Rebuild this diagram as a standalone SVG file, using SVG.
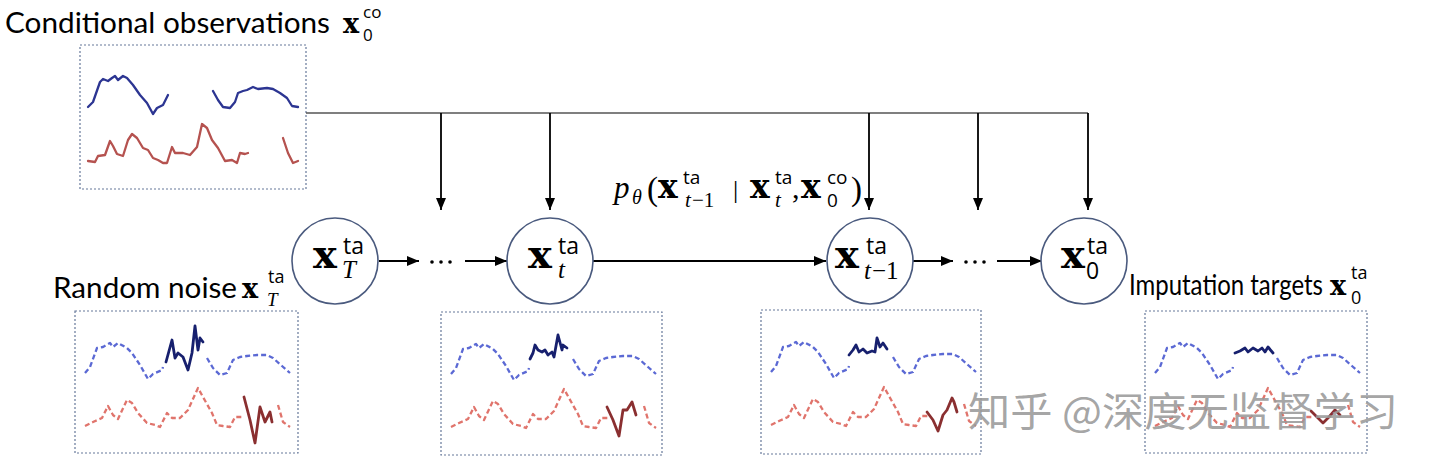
<svg xmlns="http://www.w3.org/2000/svg" width="1440" height="468" viewBox="0 0 1440 468">
<style>
.lbl{font-family:Lato,"Open Sans","Liberation Sans",sans-serif;font-size:28px;fill:#000}
.bx{font-family:"DejaVu Serif","Liberation Serif",serif;font-weight:bold;fill:#000}
.up{font-family:"Open Sans","Liberation Sans",sans-serif;fill:#000}
.it{font-family:"Liberation Serif","DejaVu Serif",serif;font-style:italic;fill:#000}
.rm{font-family:"Liberation Serif","DejaVu Serif",serif;fill:#000}
.box{fill:#fff;stroke:#66789a;stroke-width:1.2;stroke-dasharray:2 2}
.node{fill:#fff;stroke:#4a5a7e;stroke-width:1.6}
.cv{fill:none;stroke-width:2.3;stroke-linejoin:round;stroke-linecap:round}
.bS{stroke:#2c3592}.rS{stroke:#b5524f}
.bD{stroke:#5b69d4;stroke-dasharray:5 3;stroke-linecap:butt}
.rD{stroke:#e0746c;stroke-dasharray:5 3;stroke-linecap:butt}
.bK{stroke:#17206e;stroke-width:2.8}
.rK{stroke:#8a2f30;stroke-width:2.8}
.hl{stroke:#555;stroke-width:1.6;fill:none}
.ar{stroke:#000;stroke-width:1.8;fill:none}
.wm{font-family:"Noto Sans CJK SC","Noto Sans",sans-serif;font-size:40px;fill:#9a9a9a;fill-opacity:0.9}
</style>
<defs>
<marker id="ah" viewBox="0 0 12 10" refX="12" refY="5" markerWidth="12" markerHeight="10" orient="auto" markerUnits="userSpaceOnUse"><path d="M0,0 L12,5 L0,10 z" fill="#000"/></marker>
<g id="dash">
<path class="cv bD" d="M10,62 L15,56 L22,37 L28,36 L35,32 L38,36 L43,32 L52,37 L57,42 L65,54 L73,68 L78,63 L87,59 L88,56"/>
<path class="cv bD" d="M132,47 L138,57 L145,64 L152,62 L158,49 L165,46 L172,45 L182,44 L192,44 L198,47 L207,55 L215,62"/>
<path class="cv rD" d="M10,115 L18,111 L27,107 L33,95 L38,104 L43,108 L52,89 L57,92 L63,102 L72,112 L80,114 L85,116 L92,102 L97,107 L105,107 L113,99 L123,77 L128,86 L137,102 L142,114 L148,115 L155,116 L160,106 L167,106"/>
<path class="cv rD" d="M203,94 L208,111 L215,116"/>
</g>
</defs>

<g id="top-observations">
<rect class="box" x="80" y="45" width="226" height="144"/>
<path class="cv bS" d="M88,107 L93,102 L100,82 L103,79 L108,81 L112,78 L115,76 L118,80 L123,76 L127,78 L133,85 L140,95 L147,103 L153,114 L157,108 L163,105 L168,95"/>
<path class="cv bS" d="M213,91 L218,100 L223,107 L230,108 L235,102 L238,93 L243,91 L247,90 L253,87 L258,89 L267,88 L273,89 L280,93 L287,98 L292,106 L298,107"/>
<path class="cv rS" d="M88,161 L95,162 L98,156 L105,155 L110,141 L113,146 L117,154 L123,156 L128,140 L132,134 L137,138 L143,148 L148,150 L153,158 L158,160 L163,163 L167,163 L172,147 L175,153 L183,153 L190,155 L197,147 L202,124 L207,128 L212,140 L218,148 L225,161 L232,160 L237,163 L240,153 L245,154 L248,153"/>
<path class="cv rS" d="M283,138 L288,153 L293,163 L298,161"/>
<text class="lbl" x="5" y="33" textLength="325" lengthAdjust="spacingAndGlyphs">Conditional observations</text>
<text><tspan class="bx" x="343" y="33" font-size="27">x</tspan><tspan class="up" x="363" y="18" font-size="17">co</tspan><tspan class="up" x="363" y="41" font-size="17">0</tspan></text>
</g>

<g id="connectors">
<path class="hl" d="M306,113 H1088"/>
<path class="ar" d="M441,113 V210" marker-end="url(#ah)"/>
<path class="ar" d="M550,113 V210" marker-end="url(#ah)"/>
<path class="ar" d="M869,113 V210" marker-end="url(#ah)"/>
<path class="ar" d="M978,113 V210" marker-end="url(#ah)"/>
<path class="ar" d="M1088,113 V210" marker-end="url(#ah)"/>
<path class="ar" d="M379,261 H419" marker-end="url(#ah)"/>
<path class="ar" d="M465,261 H507" marker-end="url(#ah)"/>
<path class="ar" d="M593,261 H826" marker-end="url(#ah)"/>
<path class="ar" d="M913,261 H953" marker-end="url(#ah)"/>
<path class="ar" d="M997,261 H1042" marker-end="url(#ah)"/>
<g fill="#000"><circle cx="432" cy="262" r="1.8"/><circle cx="441" cy="262" r="1.8"/><circle cx="450" cy="262" r="1.8"/>
<circle cx="966" cy="262" r="1.8"/><circle cx="975" cy="262" r="1.8"/><circle cx="984" cy="262" r="1.8"/></g>
<text><tspan class="it" x="614" y="198" font-size="31">p</tspan><tspan class="it" x="632" y="204" font-size="20">θ</tspan><tspan class="rm" x="647" y="200" font-size="33">(</tspan><tspan class="bx" x="658" y="198" font-size="33">x</tspan><tspan class="up" x="683" y="184" font-size="19">ta</tspan><tspan class="it" x="685" y="207" font-size="21">t</tspan><tspan class="rm" x="692" y="207" font-size="21">−1</tspan><tspan class="rm" x="733" y="198" font-size="26">|</tspan><tspan class="bx" x="750" y="198" font-size="33">x</tspan><tspan class="up" x="775" y="184" font-size="19">ta</tspan><tspan class="it" x="775" y="207" font-size="21">t</tspan><tspan class="rm" x="792" y="198" font-size="30">,</tspan><tspan class="bx" x="801" y="198" font-size="33">x</tspan><tspan class="up" x="827" y="184" font-size="19">co</tspan><tspan class="up" x="827" y="207" font-size="19">0</tspan><tspan class="rm" x="851" y="200" font-size="33">)</tspan></text>
</g>

<g id="node-xT">
<circle class="node" cx="335" cy="261" r="43"/>
<text><tspan class="bx" x="313" y="268" font-size="40">x</tspan><tspan class="up" x="343" y="254" font-size="23">ta</tspan><tspan class="it" x="342" y="278" font-size="25">T</tspan></text>
</g>
<g id="node-xt">
<circle class="node" cx="550" cy="261" r="43"/>
<text><tspan class="bx" x="528" y="268" font-size="40">x</tspan><tspan class="up" x="558" y="254" font-size="23">ta</tspan><tspan class="it" x="558" y="278" font-size="25">t</tspan></text>
</g>
<g id="node-xt1">
<circle class="node" cx="870" cy="261" r="43"/>
<text><tspan class="bx" x="835" y="268" font-size="40">x</tspan><tspan class="up" x="866" y="254" font-size="23">ta</tspan><tspan class="it" x="864" y="279" font-size="25">t</tspan><tspan class="rm" x="872" y="279" font-size="25">−1</tspan></text>
</g>
<g id="node-x0">
<circle class="node" cx="1084" cy="261" r="43"/>
<text><tspan class="bx" x="1061" y="268" font-size="40">x</tspan><tspan class="up" x="1087" y="254" font-size="23">ta</tspan><tspan class="up" x="1086" y="279" font-size="23">0</tspan></text>
</g>

<g id="random-noise">
<text class="lbl" x="53" y="298" textLength="184" lengthAdjust="spacingAndGlyphs" font-size="27">Random noise</text>
<text><tspan class="bx" x="242" y="298" font-size="27">x</tspan><tspan class="up" x="268" y="283" font-size="18">ta</tspan><tspan class="it" x="267" y="306" font-size="19">T</tspan></text>
<rect class="box" x="75" y="311" width="223" height="142"/>
<use href="#dash" transform="translate(75,311)"/>
<path class="cv bK" transform="translate(75,311)" d="M91,51 L97,29 L100,47 L103,42 L108,46 L113,59 L117,42 L120,15 L123,39 L125,27 L128,31"/>
<path class="cv rK" transform="translate(75,311)" d="M169,86 L175,109 L180,132 L185,96 L190,111 L195,101 L197,111"/>
</g>

<g id="sample-t">
<rect class="box" x="441" y="312" width="221" height="143"/>
<use href="#dash" transform="translate(441,312)"/>
<path class="cv bK" transform="translate(441,312)" d="M89,47 L92,41 L94,33 L97,38 L101,40 L104,38 L107,43 L111,40 L113,45 L117,23 L121,38 L122,33 L126,36"/>
<path class="cv rK" transform="translate(441,312)" d="M166,95 L172,108 L178,124 L182,98 L186,98 L191,90 L195,103"/>
</g>

<g id="sample-t1">
<rect class="box" x="761" y="310" width="220" height="144"/>
<use href="#dash" transform="translate(761,310)"/>
<path class="cv bK" transform="translate(761,310)" d="M88,45 L92,40 L95,35 L98,42 L102,39 L106,43 L111,41 L114,42 L116,28 L119,37 L122,33 L126,39"/>
<path class="cv rK" transform="translate(761,310)" d="M166,102 L172,110 L177,121 L182,105 L186,100 L191,88 L193,92 L196,102"/>
</g>

<g id="imputation-targets">
<text class="lbl" x="1129" y="295" textLength="194" lengthAdjust="spacingAndGlyphs" font-size="24.5">Imputation targets</text>
<text><tspan class="bx" x="1330" y="295" font-size="27">x</tspan><tspan class="up" x="1351" y="279" font-size="18">ta</tspan><tspan class="up" x="1351" y="304" font-size="18">0</tspan></text>
<rect class="box" x="1145" y="311" width="222" height="142"/>
<use href="#dash" transform="translate(1145,311)"/>
<path class="cv bK" transform="translate(1145,311)" d="M90,42 L95,40 L100,37 L103,41 L108,37 L113,40 L117,37 L120,41 L123,36 L128,42"/>
<path class="cv rK" transform="translate(1145,311)" d="M166,100 L172,106 L178,112 L184,106 L190,99 L195,104"/>
</g>

<text class="wm" x="968" y="426" textLength="430" lengthAdjust="spacingAndGlyphs">知乎 @深度无监督学习</text>
</svg>
